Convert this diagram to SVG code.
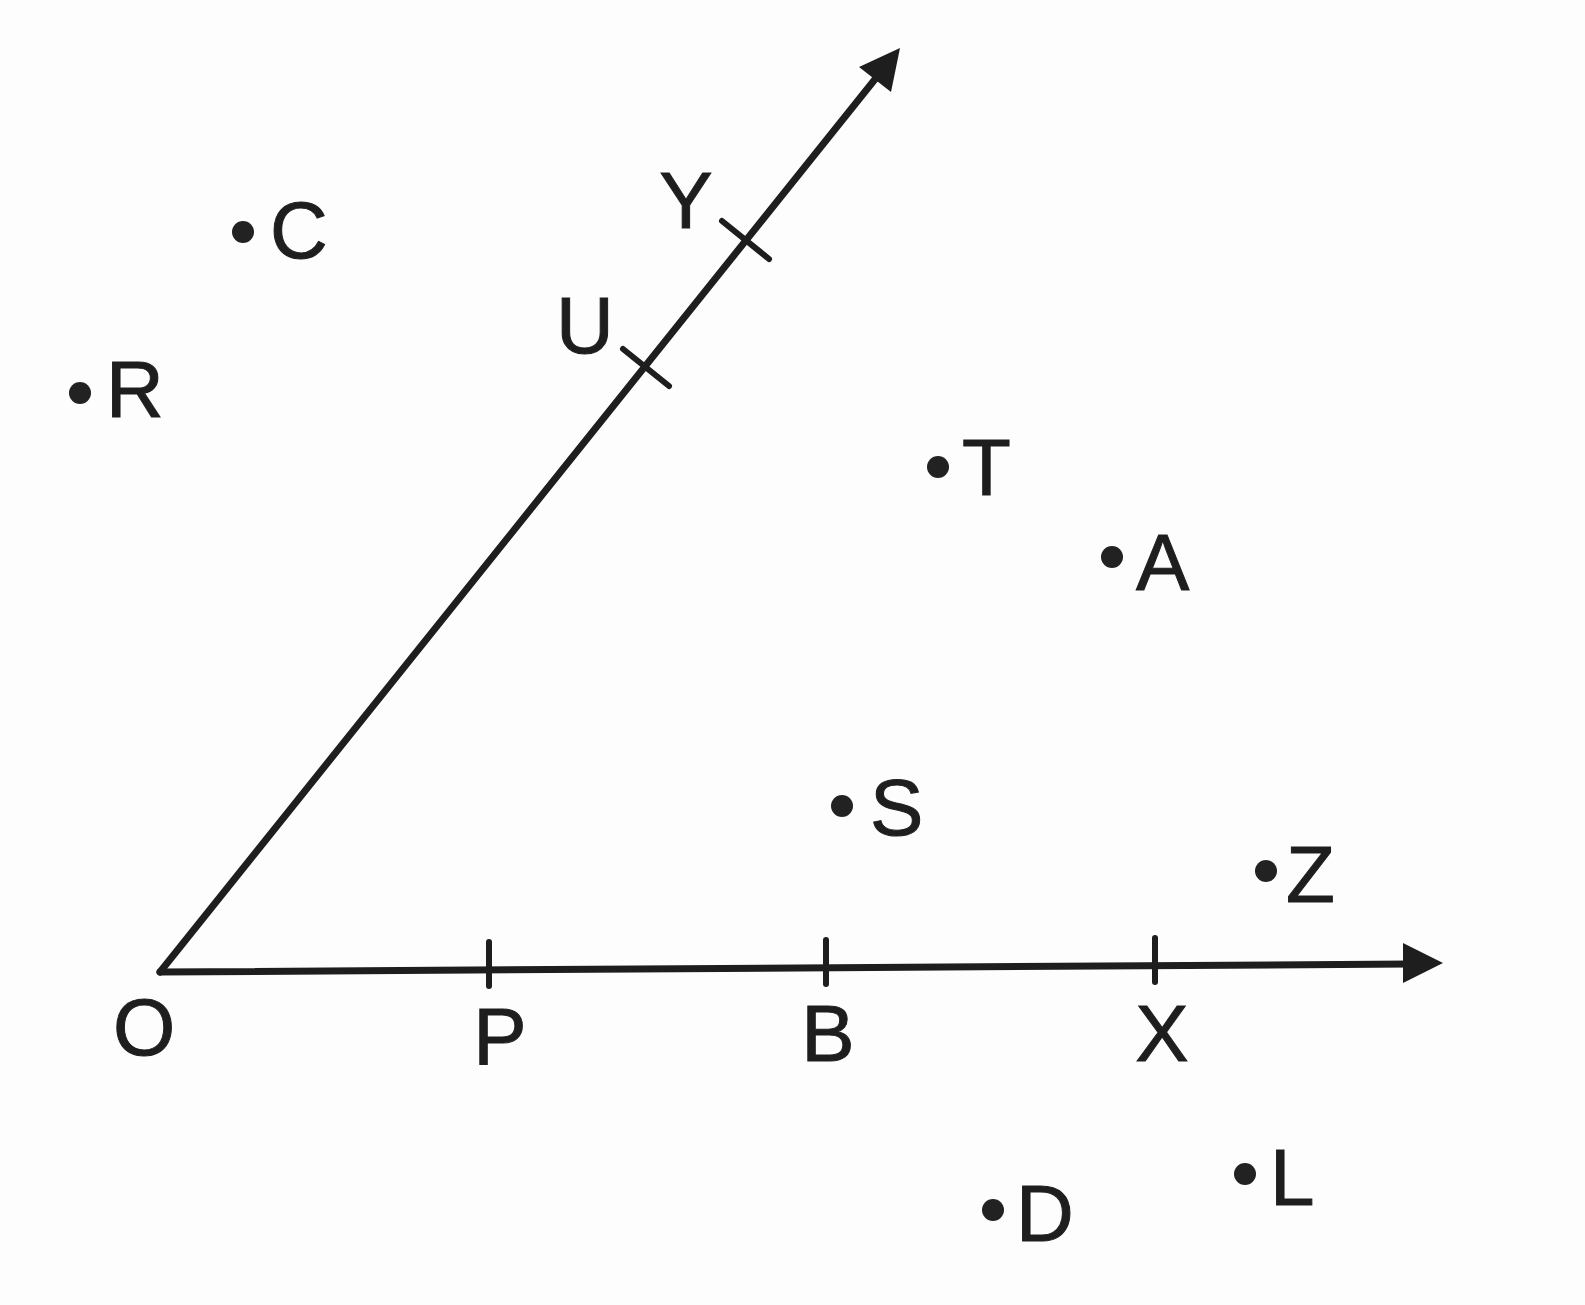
<svg xmlns="http://www.w3.org/2000/svg" width="1585" height="1305" viewBox="0 0 1585 1305">
<style>
.ln{stroke:#1e1e1e;stroke-width:7;fill:none;stroke-linecap:round}
.tk{stroke:#1e1e1e;stroke-width:6;fill:none;stroke-linecap:round}
.dot{fill:#222}
.lbl{font-family:"Liberation Sans",Arial,sans-serif;font-size:80px;fill:#1e1e1e;stroke:#1e1e1e;stroke-width:1}
.ah{fill:#1e1e1e}
</style>
<rect width="1585" height="1305" fill="#fdfdfd"/>
<g id="connectors">
<line class="ln" x1="160" y1="972" x2="1410" y2="964"/>
<polygon class="ah" points="1443,963 1403,943 1403,983"/>
<line class="ln" x1="160" y1="972" x2="880" y2="73"/>
<polygon class="ah" points="900,48 859,67 891,92"/>
<line class="tk" x1="489" y1="942" x2="489" y2="986"/>
<line class="tk" x1="826" y1="940" x2="826" y2="984"/>
<line class="tk" x1="1155" y1="938" x2="1155" y2="982"/>
<line class="tk" x1="623" y1="349" x2="669" y2="386"/>
<line class="tk" x1="722" y1="221" x2="769" y2="259"/>
</g>
<g id="O"><text class="lbl" x="144" y="1055" text-anchor="middle">O</text></g>
<g id="P"><text class="lbl" x="500" y="1064" text-anchor="middle">P</text></g>
<g id="B"><text class="lbl" x="828" y="1061" text-anchor="middle">B</text></g>
<g id="X"><text class="lbl" x="1162" y="1061" text-anchor="middle">X</text></g>
<g id="U"><text class="lbl" x="585" y="353" text-anchor="middle">U</text></g>
<g id="Y"><text class="lbl" x="686" y="228" text-anchor="middle">Y</text></g>
<g id="C"><circle class="dot" cx="243" cy="232" r="11"/><text class="lbl" x="270" y="258">C</text></g>
<g id="R"><circle class="dot" cx="80" cy="393" r="11"/><text class="lbl" x="106" y="417">R</text></g>
<g id="T"><circle class="dot" cx="938" cy="467" r="11"/><text class="lbl" x="962" y="495">T</text></g>
<g id="A"><circle class="dot" cx="1112" cy="557" r="11"/><text class="lbl" x="1136" y="590">A</text></g>
<g id="S"><circle class="dot" cx="842" cy="806" r="11"/><text class="lbl" x="870" y="835">S</text></g>
<g id="Z"><circle class="dot" cx="1266" cy="871" r="11"/><text class="lbl" x="1286" y="902">Z</text></g>
<g id="L"><circle class="dot" cx="1245" cy="1174" r="11"/><text class="lbl" x="1270" y="1205">L</text></g>
<g id="D"><circle class="dot" cx="993" cy="1210" r="11"/><text class="lbl" x="1016" y="1241">D</text></g>
</svg>
